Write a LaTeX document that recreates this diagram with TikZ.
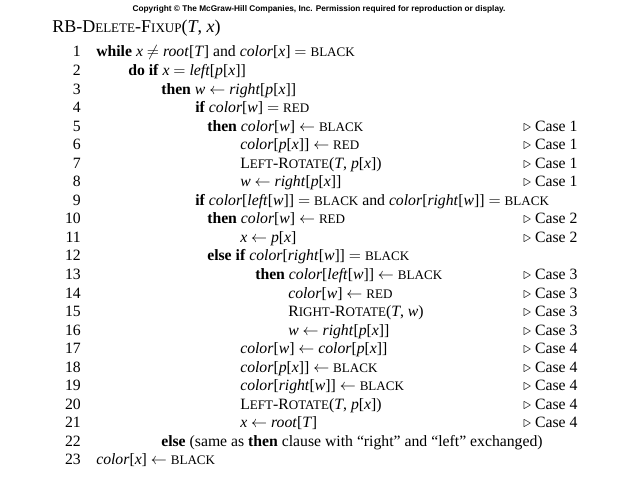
\documentclass[tikz,border=0pt]{standalone}
\usepackage{fontspec}
\setmainfont{Liberation Serif}
\newfontfamily\hdr{Liberation Sans}
\newcommand\kw[1]{\textbf{#1}}
\newcommand\V[1]{\textit{#1}}
\newcommand\SCw[1]{{\fontsize{9.8pt}{10pt}\selectfont #1}}
\newcommand\BLK{\SCw{BLACK}}
\newcommand\RD{\SCw{RED}}
\newcommand\FN[2]{#1\SCw{#2}}
\newcommand\EQ{\ $=$\ }
\newcommand\NE{\ $\neq$\ }
\newcommand\GETS{\ $\leftarrow$\ }
\begin{document}
\begin{tikzpicture}[x=0.75pt,y=-0.75pt,
  ln/.style={anchor=base east,inner sep=0pt,font=\fontsize{11.8pt}{12pt}\selectfont},
  code/.style={anchor=base west,inner sep=0pt,font=\fontsize{11.8pt}{12pt}\selectfont},
  cmt/.style={anchor=base west,inner sep=0pt,font=\fontsize{11.8pt}{12pt}\selectfont}]
\useasboundingbox (0,0) rectangle (638,478);
\node[anchor=center,font=\hdr\bfseries\fontsize{6.2pt}{7pt}\selectfont] (cp) at (319,9) {Copyright © The McGraw-Hill Companies, Inc. Permission required for reproduction or display.};
\node[code,font=\fontsize{13.5pt}{14pt}\selectfont] (title) at (52,33) {\FN{RB-D}{ELETE}-\FN{F}{IXUP}(\V{T}, \V{x})};
\def\B{57}\def\D{18.545}
\foreach \n/\x/\t in {
 1/96/{\kw{while} \V{x}\NE\V{root}[\V{T}] and \V{color}[\V{x}]\EQ\BLK},
 2/128/{\kw{do if} \V{x}\EQ\V{left}[\V{p}[\V{x}]]},
 3/161/{\kw{then} \V{w}\GETS\V{right}[\V{p}[\V{x}]]},
 4/195/{\kw{if} \V{color}[\V{w}]\EQ\RD},
 5/207/{\kw{then} \V{color}[\V{w}]\GETS\BLK},
 6/240/{\V{color}[\V{p}[\V{x}]]\GETS\RD},
 7/240/{\FN{L}{EFT}-\FN{R}{OTATE}(\V{T}, \V{p}[\V{x}])},
 8/240/{\V{w}\GETS\V{right}[\V{p}[\V{x}]]},
 9/195/{\kw{if} \V{color}[\V{left}[\V{w}]]\EQ\BLK{} and \V{color}[\V{right}[\V{w}]]\EQ\BLK},
 10/207/{\kw{then} \V{color}[\V{w}]\GETS\RD},
 11/240/{\V{x}\GETS\V{p}[\V{x}]},
 12/207/{\kw{else if} \V{color}[\V{right}[\V{w}]]\EQ\BLK},
 13/255/{\kw{then} \V{color}[\V{left}[\V{w}]]\GETS\BLK},
 14/288/{\V{color}[\V{w}]\GETS\RD},
 15/288/{\FN{R}{IGHT}-\FN{R}{OTATE}(\V{T}, \V{w})},
 16/288/{\V{w}\GETS\V{right}[\V{p}[\V{x}]]},
 17/240/{\V{color}[\V{w}]\GETS\V{color}[\V{p}[\V{x}]]},
 18/240/{\V{color}[\V{p}[\V{x}]]\GETS\BLK},
 19/240/{\V{color}[\V{right}[\V{w}]]\GETS\BLK},
 20/240/{\FN{L}{EFT}-\FN{R}{OTATE}(\V{T}, \V{p}[\V{x}])},
 21/240/{\V{x}\GETS\V{root}[\V{T}]},
 22/161/{\kw{else} (same as \kw{then} clause with “right” and “left” exchanged)},
 23/96/{\V{color}[\V{x}]\GETS\BLK}}{
  \node[ln] (n\n) at (81,{\B+(\n-1)*\D}) {\n};
  \node[code] (c\n) at (\x,{\B+(\n-1)*\D}) {\t};
}
\foreach \n/\k in {5/1,6/1,7/1,8/1,10/2,11/2,13/3,14/3,15/3,16/3,17/4,18/4,19/4,20/4,21/4}{
  \node[cmt] (k\n) at (523,{\B+(\n-1)*\D}) {$\triangleright$ Case \k};
}
\end{tikzpicture}
\end{document}
